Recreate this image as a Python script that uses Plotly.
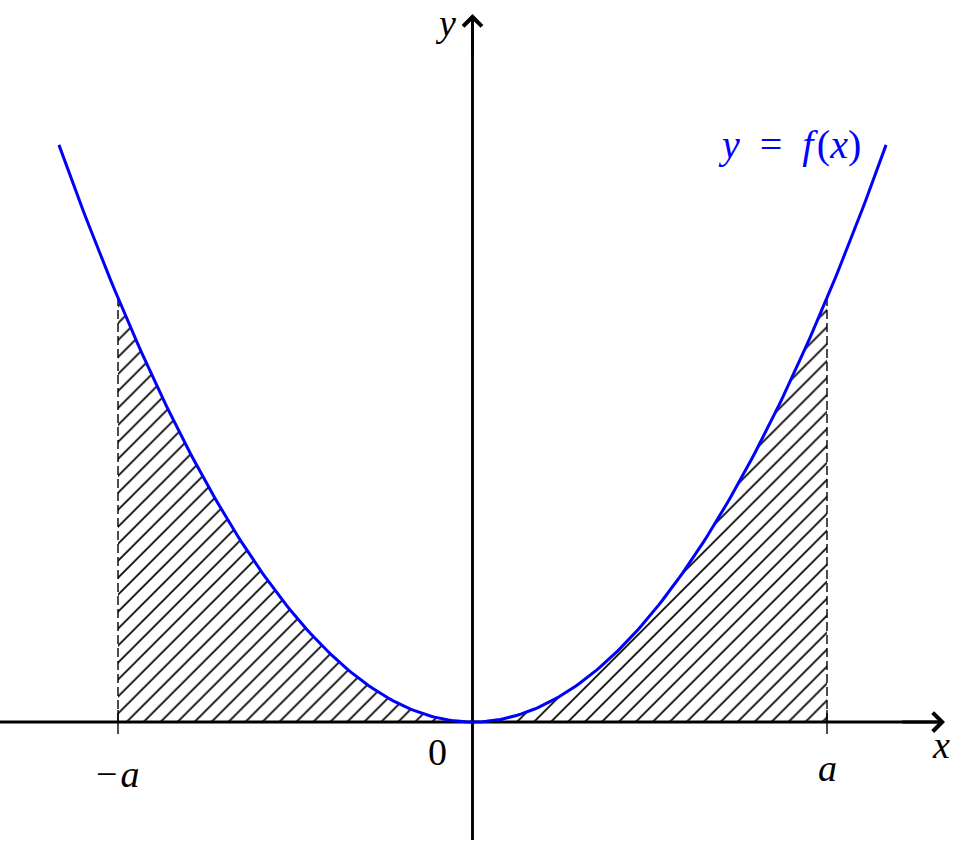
import numpy as np
import plotly.graph_objects as go

# ---- data ----
A = 2.0                                  # position of the bound a
X_DOMAIN = [-7/3, 7/3]                   # plotted domain of f
N_SAMPLES = 241
TICK_X = [-A, A]
TICK_LABELS = ["\u2212\u200a<i>a</i>", "<i>a</i>"]
ORIGIN_LABEL = "0"
CURVE_LABEL = "<i>y</i>\u2002=\u2002<i>f</i>\u200a(<i>x</i>)"

def f(x):
    return x ** 2

xc = np.linspace(X_DOMAIN[0], X_DOMAIN[1], N_SAMPLES)
yc = f(xc)

xs = np.linspace(-A, A, 201)
ys = f(xs)
fill_x = np.concatenate([[-A], xs, [A, -A]])
fill_y = np.concatenate([[0], ys, [0, 0]])

# ---- geometry of the view (pixels per unit) ----
W, H = 958, 845
ox, oy = 472.5, 722.0
sx, sy = 177.25, 106.0
xr = [-ox / sx, (W - ox) / sx]
yr = [-(H - oy) / sy, oy / sy]
XAX = [-ox / sx, (945 - ox) / sx]
YAX = [-(840 - oy) / sy, (oy - 14) / sy]

FONT = "Liberation Serif"
FS = 38

fig = go.Figure()

# hatched area
fig.add_trace(go.Scatter(
    x=fill_x, y=fill_y, mode="lines", fill="toself",
    line=dict(width=0, color="rgba(0,0,0,0)"),
    fillcolor="rgba(0,0,0,0)",
    fillpattern=dict(shape="/", fgcolor="black", bgcolor="rgba(255,255,255,0)",
                     size=12, solidity=0.14, fillmode="replace"),
    hoverinfo="skip", showlegend=False))

# dashed bounds
for xb in TICK_X:
    fig.add_trace(go.Scatter(
        x=[xb, xb], y=[0, f(xb)], mode="lines",
        line=dict(color="black", width=1.4, dash="9px,4px"),
        hoverinfo="skip", showlegend=False))

# curve
fig.add_trace(go.Scatter(
    x=xc, y=yc, mode="lines", line=dict(color="#0000FF", width=3),
    hoverinfo="skip", showlegend=False))

shapes = []
# axes lines (below traces)
shapes.append(dict(type="line", xref="x", yref="y", x0=XAX[0], x1=XAX[1] - 0.02,
                   y0=0, y1=0, line=dict(color="black", width=2.9), layer="below"))
shapes.append(dict(type="line", xref="x", yref="y", x0=0, x1=0,
                   y0=YAX[0], y1=YAX[1] - 0.03, line=dict(color="black", width=2.9), layer="below"))
# ticks
for xb in TICK_X:
    shapes.append(dict(type="line", xref="x", yref="y", x0=xb, x1=xb,
                       y0=-12 / sy, y1=12 / sy, line=dict(color="black", width=1.4)))

ann = []
# arrow heads
ann.append(dict(x=XAX[1], y=0, ax=XAX[1] - 0.25, ay=0, xref="x", yref="y",
                axref="x", ayref="y", text="", showarrow=True, arrowhead=4,
                arrowsize=1.25, arrowwidth=2.9, arrowcolor="black", standoff=0))
ann.append(dict(x=0, y=YAX[1], ax=0, ay=YAX[1] - 0.4, xref="x", yref="y",
                axref="x", ayref="y", text="", showarrow=True, arrowhead=4,
                arrowsize=1.25, arrowwidth=2.9, arrowcolor="black", standoff=0))

def lab(px, py, text, color="black", yanchor="middle", size=FS):
    return dict(x=(px - ox) / sx, y=(oy - py) / sy, xref="x", yref="y", text=text,
                showarrow=False, xanchor="center", yanchor=yanchor,
                font=dict(family=FONT, size=size, color=color))

ann.append(lab(445, 0, "<i>y</i>", yanchor="top"))
ann.append(lab(941, 745, "<i>x</i>"))
ann.append(lab(118, 774, TICK_LABELS[0]))
ann.append(lab(827, 768, TICK_LABELS[1]))
ann.append(lab(437, 752, ORIGIN_LABEL))
ann.append(lab(789, 144, CURVE_LABEL, color="#0000FF", size=40))

fig.update_layout(
    width=W, height=H, margin=dict(l=0, r=0, t=0, b=0),
    paper_bgcolor="white", plot_bgcolor="white",
    xaxis=dict(range=xr, visible=False, fixedrange=True),
    yaxis=dict(range=yr, visible=False, fixedrange=True),
    shapes=shapes, annotations=ann, showlegend=False)

fig.write_html("out.html", config={"displayModeBar": False},
               post_script="document.body.style.margin='0';")
